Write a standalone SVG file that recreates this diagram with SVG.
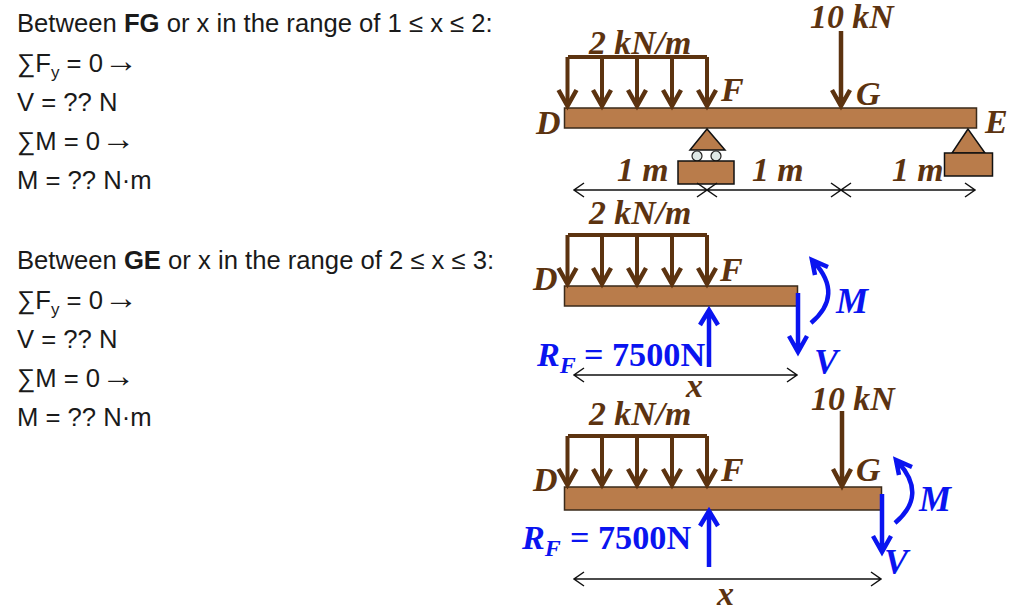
<svg xmlns="http://www.w3.org/2000/svg" width="1024" height="615" viewBox="0 0 1024 615">
<style>
.t{font-family:"Liberation Sans",Arial,sans-serif;font-size:25.650px;fill:#1a1a1a}
.b{font-weight:bold}
.s{font-size:17px}
.a{font-size:34px}
.l{font-family:"Liberation Serif","Times New Roman",serif;font-style:italic;font-weight:bold;font-size:34px;fill:#5c3310}
.n{font-size:33.800px}
.c{fill:#0a14f0;font-size:36px}
.r{font-family:"Liberation Serif","Times New Roman",serif;font-weight:bold;font-size:34.200px;fill:#0a14f0}
.ri{font-style:italic}
.beam{fill:#b97c4b;stroke:#3a2a1a;stroke-width:1.5}
.sup{fill:#b97c4b;stroke:#111;stroke-width:1.5}
.roll{fill:#dfe8e6;stroke:#222;stroke-width:1.2}
.lo{fill:none;stroke:#5c3310;stroke-width:4}
.bl{fill:none;stroke:#0a14f0;stroke-width:4.5}
.dim{fill:none;stroke:#111;stroke-width:1.5}
</style>
<defs>
<g id="load" class="lo">
<path d="M568 0H707M567.500 0V48M602 0V48M637 0V48M672 0V48M707 0V48"/>
<path d="M558.500 33L567.500 49L576.500 33M593 33L602 49L611 33M628 33L637 49L646 33M663 33L672 49L681 33M698 33L707 49L716 33" stroke-width="4.500"/>
</g>
</defs>

<g id="text-fg">
<text class="t" x="17" y="32">Between <tspan class="b">FG</tspan> or x in the range of 1 ≤ x ≤ 2:</text>
<text class="t" x="17" y="72">∑F<tspan class="s" dy="6">y</tspan><tspan dy="-6"> = 0 </tspan><tspan class="a" dx="-6">→</tspan></text>
<text class="t" x="17" y="111">V = ?? N</text>
<text class="t" x="17" y="150">∑M = 0 <tspan class="a" dx="-6">→</tspan></text>
<text class="t" x="17" y="189">M = ?? N·m</text>
</g>
<g id="text-ge">
<text class="t" x="17" y="269">Between <tspan class="b">GE</tspan> or x in the range of 2 ≤ x ≤ 3:</text>
<text class="t" x="17" y="309">∑F<tspan class="s" dy="6">y</tspan><tspan dy="-6"> = 0 </tspan><tspan class="a" dx="-6">→</tspan></text>
<text class="t" x="17" y="348">V = ?? N</text>
<text class="t" x="17" y="387">∑M = 0 <tspan class="a" dx="-6">→</tspan></text>
<text class="t" x="17" y="426">M = ??  N·m</text>
</g>

<g id="beam-1">
<rect class="beam" x="564.500" y="108" width="412" height="20"/>
<text class="l n" x="589" y="54">2 kN/m</text>
<text class="l n" x="810" y="28">10 kN</text>
<text class="l" x="721" y="101">F</text>
<text class="l" x="856" y="105">G</text>
<text class="l" x="536" y="134">D</text>
<text class="l" x="985" y="133">E</text>
<text class="l n" x="617" y="181">1 m</text>
<text class="l n" x="752" y="181">1 m</text>
<text class="l n" x="892" y="181">1 m</text>
</g>
<g id="support-f">
<path class="sup" d="M707 129L690 150H725Z"/>
<circle class="roll" cx="697" cy="156" r="5"/>
<circle class="roll" cx="716" cy="156" r="5"/>
<rect class="sup" x="678" y="161" width="56" height="23"/>
</g>
<g id="support-e">
<path class="sup" d="M968 129L952 153H985Z"/>
<rect class="sup" x="944.500" y="153" width="48" height="23"/>
</g>

<g id="beam-2">
<rect class="beam" x="564.500" y="286" width="233" height="20"/>
<text class="l n" x="589" y="224">2 kN/m</text>
<text class="l" x="720" y="281">F</text>
<text class="l" x="533" y="290">D</text>
<text class="l c" x="836" y="313">M</text>
<text class="l c" x="814" y="374">V</text>
<text class="r" x="537" y="366"><tspan class="ri">R</tspan><tspan class="ri" font-size="24" dy="7">F</tspan><tspan x="584" dy="-7">= 7500N</tspan></text>
<text class="l" x="686" y="397">x</text>
</g>

<g id="beam-3">
<rect class="beam" x="564.500" y="487" width="317" height="23"/>
<text class="l n" x="589" y="425">2 kN/m</text>
<text class="l n" x="811" y="410">10 kN</text>
<text class="l" x="721" y="481">F</text>
<text class="l" x="856" y="481">G</text>
<text class="l" x="533" y="491">D</text>
<text class="l c" x="919" y="511">M</text>
<text class="l c" x="884" y="574">V</text>
<text class="r" x="522" y="549"><tspan class="ri">R</tspan><tspan class="ri" font-size="24" dy="7">F</tspan><tspan x="570" dy="-7">= 7500N</tspan></text>
<text class="l" x="717" y="605">x</text>
</g>

<g id="connectors">
<use href="#load" y="57"/>
<use href="#load" y="235"/>
<use href="#load" y="436"/>
<g class="lo">
<path d="M841 31V106M832 90L841 106L850 90" stroke-width="4.500"/>
<path d="M842 411V485M833 469L842 486L851 469" stroke-width="4.500"/>
</g>
<g class="dim">
<path d="M574 190H975M584 183L574 190L584 197M697 183L707 190L697 197M717 183L707 190L717 197M831 183L841 190L831 197M851 183L841 190L851 197M965 183L975 190L965 197"/>
<path d="M574 375H797M584 368L574 375L584 382M787 368L797 375L787 382"/>
<path d="M574 579H881M584 572L574 579L584 586M871 572L881 579L871 586"/>
</g>
<g class="bl">
<path d="M709 367V310M700 325L709 310L718 325"/>
<path d="M798 293V351M789 336L798 352L807 336"/>
<path d="M811 323Q844 295 814 262M815 275L812 260L828 267"/>
<path d="M709 567V511M700 526L709 511L718 526"/>
<path d="M882 494V551M873 536L882 552L891 536"/>
<path d="M895 523Q928 495 898 462M899 475L896 460L912 467"/>
</g>
</g>
</svg>
